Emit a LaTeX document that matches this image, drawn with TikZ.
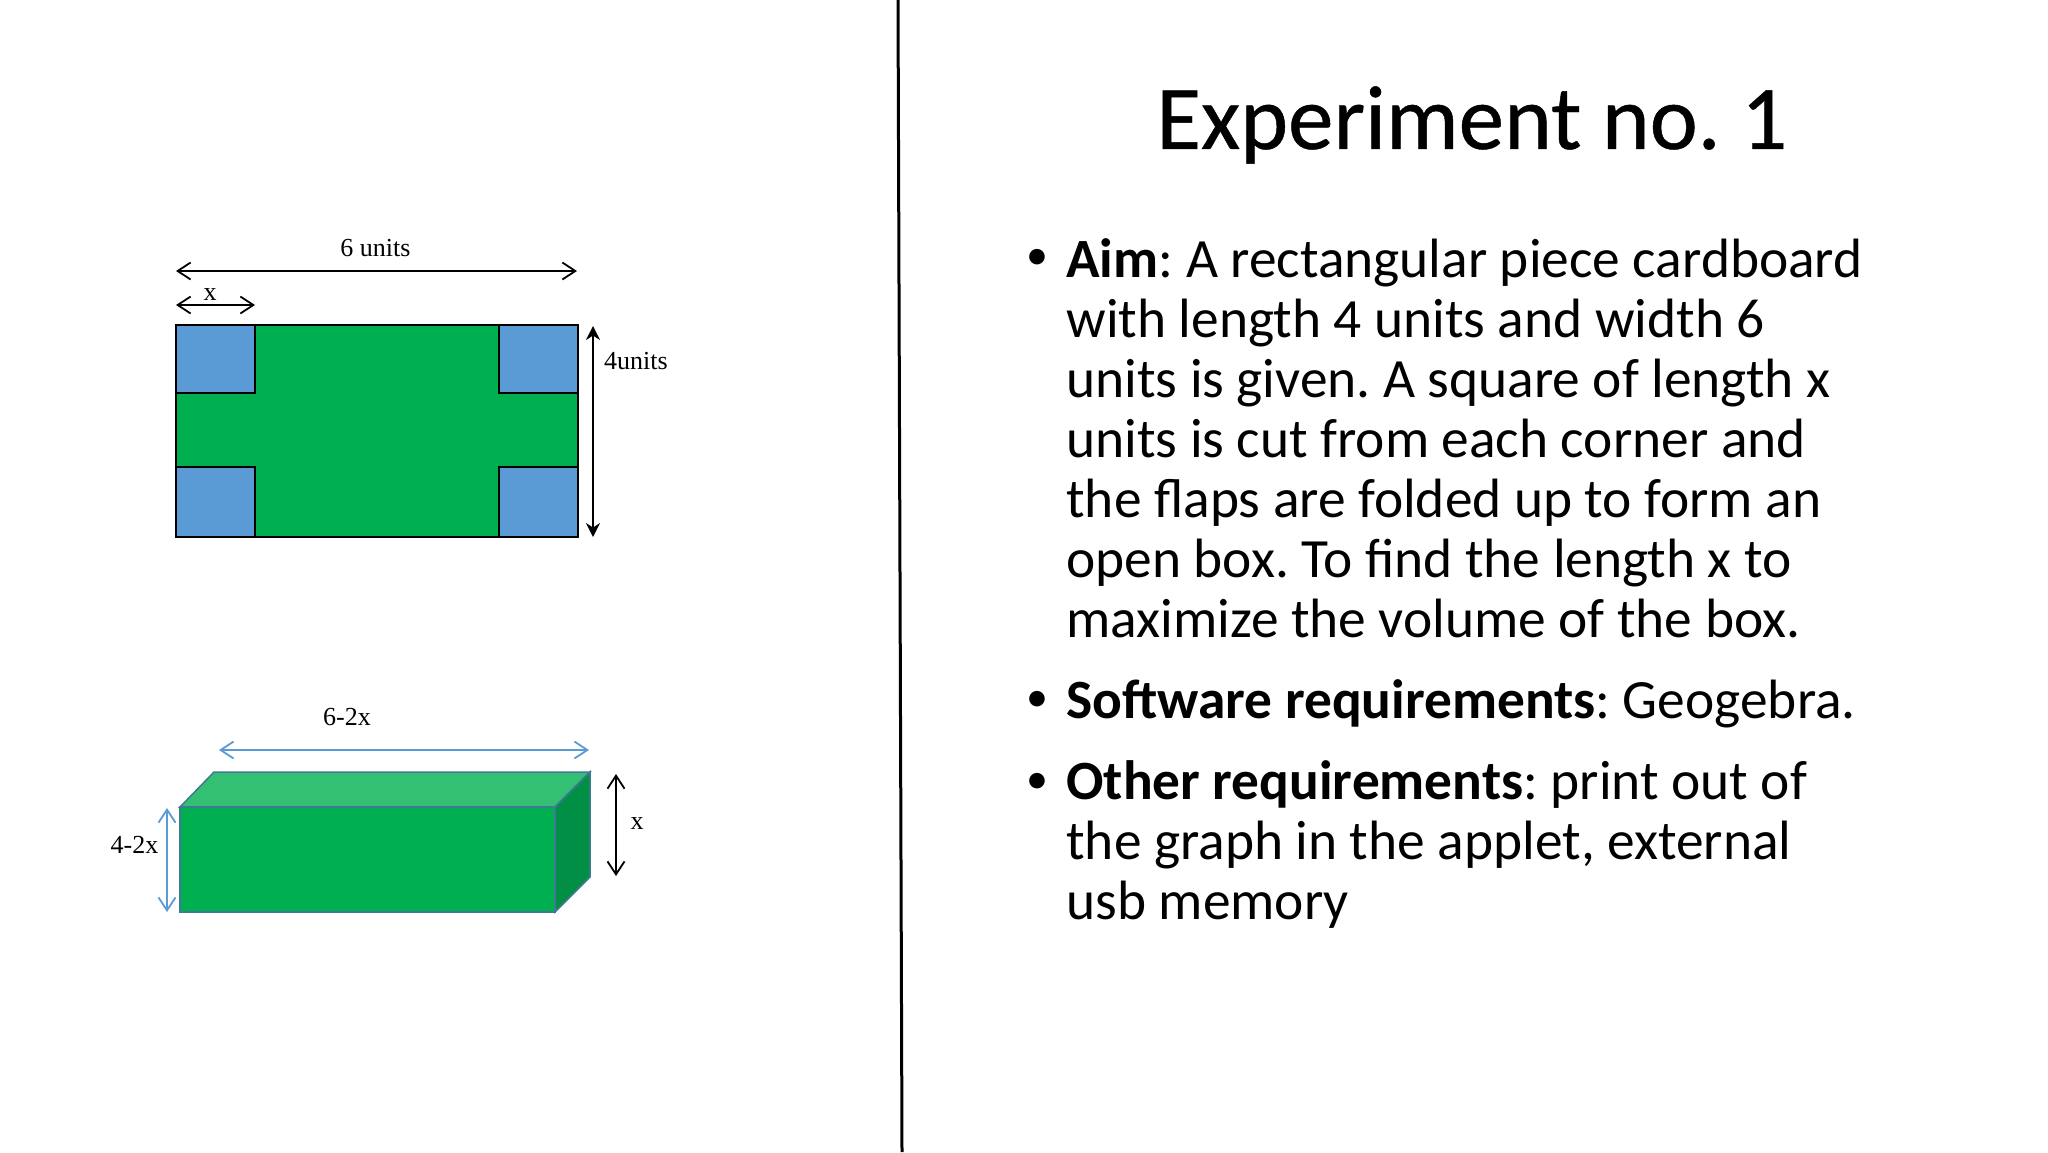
\documentclass[tikz,border=0pt]{standalone}
\usepackage{fontspec}
\setmainfont{Carlito}
\newfontfamily\labelfont{Liberation Serif}
\newfontfamily\titlefont[FakeBold=0.5]{Carlito}
\usetikzlibrary{arrows.meta}
\definecolor{sheetgreen}{HTML}{00B050}
\definecolor{cornerblue}{HTML}{5B9BD5}
\definecolor{topgreen}{HTML}{33C073}
\definecolor{sidegreen}{HTML}{008F45}
\definecolor{boxedge}{HTML}{3F7A94}
\frenchspacing
\tikzset{
  dimlabel/.style={font=\labelfont\fontsize{13}{15}\selectfont,inner sep=0pt},
  dimarrow/.style={line width=0.9pt,{Straight Barb[length=6.5pt,width=8.5pt]}-{Straight Barb[length=6.5pt,width=8.5pt]}},
  solidarrow/.style={line width=0.9pt,{Stealth[length=7pt,width=7pt]}-{Stealth[length=7pt,width=7pt]}},
  corner/.style={draw=black,line width=0.75pt,fill=cornerblue},
  bodytext/.style={anchor=north west,align=left,inner sep=0pt,font=\fontsize{27.7}{30}\selectfont},
  bulletmark/.style={inner sep=0pt,font=\fontsize{22}{24}\selectfont}
}
\begin{document}
\begin{tikzpicture}[x=0.5pt,y=-0.5pt]
  \useasboundingbox (0,0) rectangle (2048,1152);

  % Divider
  \coordinate (divtop) at (898,0);
  \coordinate (divbot) at (902,1152);
  \draw[line width=1.5pt] (divtop) -- (divbot);

  % Sheet
  \coordinate (sheetnw) at (176,325);
  \coordinate (sheetne) at (578,325);
  \coordinate (sheetse) at (578,537);
  \draw[fill=sheetgreen,line width=0.75pt] (sheetnw) rectangle (sheetse);
  \draw[corner] (176,325) rectangle (255,393);
  \draw[corner] (499,325) rectangle (578,393);
  \draw[corner] (176,467) rectangle (255,537);
  \draw[corner] (499,467) rectangle (578,537);

  % Sheet dimensions
  \coordinate (widthl) at (176,271);
  \coordinate (widthr) at (577,271);
  \coordinate (cutl) at (176,305);
  \coordinate (cutr) at (255,305);
  \coordinate (heightt) at (593,326);
  \coordinate (heightb) at (593,537);
  \draw[dimarrow] (widthl) -- (widthr);
  \draw[dimarrow] (cutl) -- (cutr);
  \draw[solidarrow] (heightt) -- (heightb);
  \node[dimlabel] (widthlabel) at (375.5,248) {6 units};
  \node[dimlabel] (cutlabel) at (210,295) {x};
  \node[dimlabel] (heightlabel) at (636,361) {4units};

  % Box
  \coordinate (frontnw) at (180,807);
  \coordinate (frontne) at (555,807);
  \coordinate (frontse) at (555,912);
  \coordinate (frontsw) at (180,912);
  \coordinate (backnw) at (214,772);
  \coordinate (backne) at (590,772);
  \coordinate (backse) at (590,877);
  \draw[fill=topgreen,draw=boxedge,line width=0.75pt] (frontnw) -- (backnw) -- (backne) -- (frontne) -- cycle;
  \draw[fill=sidegreen,draw=boxedge,line width=0.75pt] (frontne) -- (backne) -- (backse) -- (frontse) -- cycle;
  \draw[fill=sheetgreen,draw=boxedge,line width=0.75pt] (frontnw) rectangle (frontse);

  % Box dimensions
  \coordinate (lenl) at (219,750);
  \coordinate (lenr) at (589,750);
  \coordinate (deptht) at (167,808);
  \coordinate (depthb) at (167,912);
  \coordinate (tallt) at (616,774);
  \coordinate (tallb) at (616,876);
  \draw[dimarrow,draw=cornerblue] (lenl) -- (lenr);
  \draw[dimarrow,draw=cornerblue] (deptht) -- (depthb);
  \draw[dimarrow] (tallt) -- (tallb);
  \node[dimlabel] (lenlabel) at (347,717) {6-2x};
  \node[dimlabel] (depthlabel) at (134.5,845) {4-2x};
  \node[dimlabel] (talllabel) at (637,824) {x};

  % Text
  \node[font=\titlefont\fontsize{45.5}{50}\selectfont,inner sep=0pt] (title) at (1472,125) {Experiment no. 1};
  \node[bodytext] (aim) at (1066,238) {\textbf{Aim}: A rectangular piece cardboard\\
    with length 4 units and width 6\\
    units is given. A square of length x\\
    units is cut from each corner and\\
    the flaps are folded up to form an\\
    open box. To find the length x to\\
    maximize the volume of the box.};
  \node[bodytext] (soft) at (1066,679) {\textbf{Software requirements}: Geogebra.};
  \node[bodytext] (other) at (1066,760) {\textbf{Other requirements}: print out of\\
    the graph in the applet, external\\
    usb memory};
  \node[bulletmark,anchor=north] (aimdot) at (1037,249) {•};
  \node[bulletmark,anchor=north] (softdot) at (1037,691) {•};
  \node[bulletmark,anchor=north] (otherdot) at (1037,773) {•};
\end{tikzpicture}
\end{document}
